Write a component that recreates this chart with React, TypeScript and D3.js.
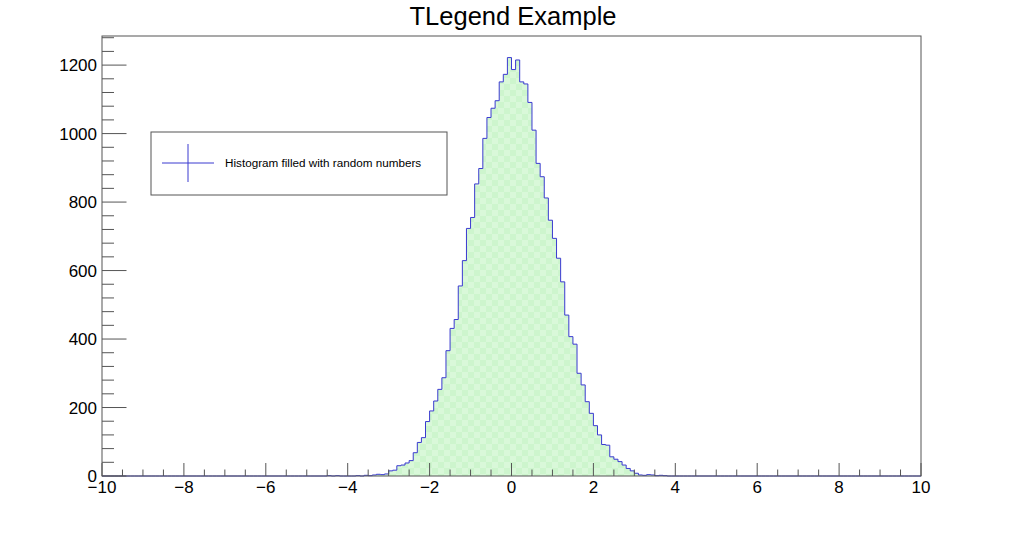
import React, { useEffect, useRef } from 'react';
import * as d3 from 'd3';

// Histogram contents (bin width 0.1, first filled bin starts at -4.5)
const firstBinLow = -4.5;
const binWidth = 0.1;
const counts = [
  1, 0, 1, 0, 0, 0, 0, 1, 0, 2,             // -4.5 .. -3.6
  1, 3, 5, 4, 6, 15, 17, 30, 32, 38,        // -3.5 .. -2.6
  45, 68, 98, 112, 159, 190, 219, 253, 287, 366, // -2.5 .. -1.6
  431, 457, 555, 629, 723, 755, 853, 898, 986, 1047, // -1.5 .. -0.6
  1074, 1096, 1151, 1173, 1222, 1187, 1215, 1151, 1145, 1091, // -0.5 .. 0.4
  1010, 913, 874, 812, 747, 694, 636, 567, 470, 407, // 0.5 .. 1.4
  385, 300, 266, 217, 183, 147, 120, 92, 90, 56, // 1.5 .. 2.4
  49, 42, 32, 22, 15, 8, 3, 2, 4, 3,        // 2.5 .. 3.4
  1, 2, 1,                                  // 3.5 .. 3.7
];

const xDomain: [number, number] = [-10, 10];
const yDomain: [number, number] = [0, 1285];
const xMajorTicks = [-10, -8, -6, -4, -2, 0, 2, 4, 6, 8, 10];
const yMajorTicks = [0, 200, 400, 600, 800, 1000, 1200];

const title = "TLegend Example";
const legendLabel = "Histogram filled with random numbers";

const WIDTH = 1024;
const HEIGHT = 549;
const FONT = "'Liberation Sans', Arial, Helvetica, sans-serif";

const Histogram: React.FC = () => {
  const svgRef = useRef<SVGSVGElement>(null);

  useEffect(() => {
    if (!svgRef.current) return;
    const svg = d3.select(svgRef.current);
    svg.selectAll("*").remove();

    const frame = { left: 102, right: 921, top: 36, bottom: 476 };
    const x = d3.scaleLinear().domain(xDomain).range([frame.left, frame.right]);
    const y = d3.scaleLinear().domain(yDomain).range([frame.bottom, frame.top]);

    // Fill pattern (ROOT-like light green checker)
    const defs = svg.append("defs");
    const pat = defs.append("pattern")
      .attr("id", "greenFill")
      .attr("patternUnits", "userSpaceOnUse")
      .attr("width", 12)
      .attr("height", 12);
    pat.append("rect").attr("width", 12).attr("height", 12).attr("fill", "#d9f8d9");
    pat.append("rect").attr("width", 6).attr("height", 6).attr("fill", "#cdf5cd");
    pat.append("rect").attr("x", 6).attr("y", 6).attr("width", 6).attr("height", 6).attr("fill", "#cdf5cd");

    // Full set of 200 bins, empty outside the filled range
    const nBins = Math.round((xDomain[1] - xDomain[0]) / binWidth);
    const offset = Math.round((firstBinLow - xDomain[0]) / binWidth);
    const bins = d3.range(nBins).map(i => ({
      lo: xDomain[0] + i * binWidth,
      hi: xDomain[0] + (i + 1) * binWidth,
      n: i - offset >= 0 && i - offset < counts.length ? counts[i - offset] : 0,
    }));

    const pts: [number, number][] = [[x(xDomain[0]), y(0)]];
    bins.forEach(b => {
      pts.push([x(b.lo), y(b.n)]);
      pts.push([x(b.hi), y(b.n)]);
    });
    pts.push([x(xDomain[1]), y(0)]);
    const line = d3.line();

    svg.append("path")
      .attr("d", line(pts) + "Z")
      .attr("fill", "url(#greenFill)")
      .attr("stroke", "none");

    svg.append("path")
      .attr("d", line(pts))
      .attr("fill", "none")
      .attr("stroke", "#3a3ad0")
      .attr("stroke-width", 1);

    // Frame
    const axisColor = "#555";
    svg.append("rect")
      .attr("x", frame.left)
      .attr("y", frame.top)
      .attr("width", frame.right - frame.left)
      .attr("height", frame.bottom - frame.top)
      .attr("fill", "none")
      .attr("stroke", axisColor)
      .attr("stroke-width", 1);

    // X ticks (major every 2, minor every 0.5)
    const xMinor = d3.range(xDomain[0], xDomain[1] + 0.001, 0.5);
    svg.append("g").selectAll("line")
      .data(xMinor)
      .enter()
      .append("line")
      .attr("x1", d => x(d))
      .attr("x2", d => x(d))
      .attr("y1", frame.bottom)
      .attr("y2", d => frame.bottom - (xMajorTicks.includes(d) ? 13 : 6.5))
      .attr("stroke", axisColor);

    svg.append("g").selectAll("text")
      .data(xMajorTicks)
      .enter()
      .append("text")
      .attr("x", d => x(d))
      .attr("y", 493)
      .attr("text-anchor", "middle")
      .style("font-family", FONT)
      .style("font-size", "17px")
      .attr("fill", "#000")
      .text(d => (d < 0 ? "\u2212" + Math.abs(d) : String(d)));

    // Y ticks (major every 200, minor every 40)
    const yMinor = d3.range(0, yDomain[1], 40);
    svg.append("g").selectAll("line")
      .data(yMinor)
      .enter()
      .append("line")
      .attr("x1", frame.left)
      .attr("x2", d => frame.left + (yMajorTicks.includes(d) ? 24.5 : 12))
      .attr("y1", d => y(d))
      .attr("y2", d => y(d))
      .attr("stroke", axisColor);

    svg.append("g").selectAll("text")
      .data(yMajorTicks)
      .enter()
      .append("text")
      .attr("x", 97)
      .attr("y", d => y(d))
      .attr("dy", "0.36em")
      .attr("text-anchor", "end")
      .style("font-family", FONT)
      .style("font-size", "17px")
      .attr("fill", "#000")
      .text(d => String(d));

    // Title
    svg.append("text")
      .attr("x", 513)
      .attr("y", 25)
      .attr("text-anchor", "middle")
      .style("font-family", FONT)
      .style("font-size", "25.5px")
      .attr("fill", "#000")
      .text(title);

    // Legend
    const lg = svg.append("g").attr("transform", "translate(151,132)");
    lg.append("rect")
      .attr("width", 296)
      .attr("height", 63)
      .attr("fill", "#fff")
      .attr("stroke", axisColor);
    lg.append("line")
      .attr("x1", 11).attr("x2", 63)
      .attr("y1", 31).attr("y2", 31)
      .attr("stroke", "#3a3ad0");
    lg.append("line")
      .attr("x1", 37).attr("x2", 37)
      .attr("y1", 12).attr("y2", 50)
      .attr("stroke", "#3a3ad0");
    lg.append("text")
      .attr("x", 74)
      .attr("y", 31)
      .attr("dy", "0.36em")
      .style("font-family", FONT)
      .style("font-size", "11.7px")
      .attr("fill", "#000")
      .text(legendLabel);
  }, []);

  return <svg ref={svgRef} width={WIDTH} height={HEIGHT} style={{ display: "block", background: "#fff" }} />;
};

export default function App() {
  return (
    <div style={{ position: "absolute", left: 0, top: 0 }}>
      <Histogram />
    </div>
  );
}
